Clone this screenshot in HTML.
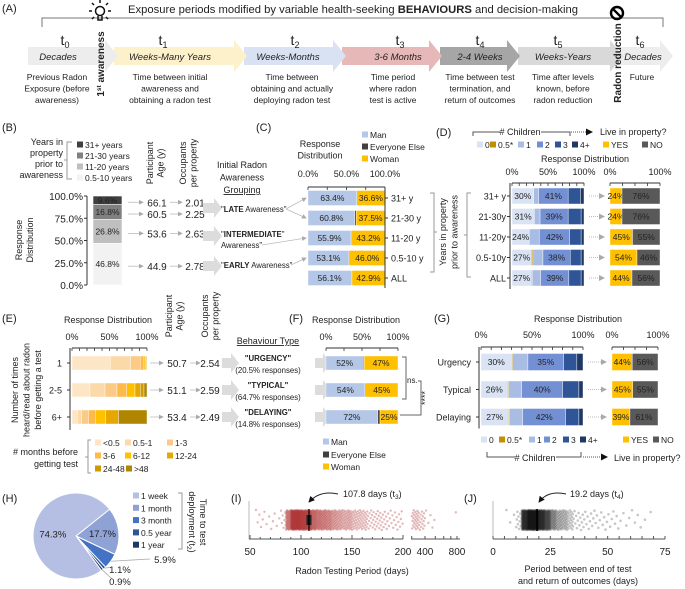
<!DOCTYPE html>
<html><head><meta charset="utf-8"><style>
html,body{margin:0;padding:0;background:#fff;}
svg{display:block;font-family:"Liberation Sans",sans-serif;}
text{fill:#222;}
</style></head><body>
<svg id="chart" width="685" height="589" viewBox="0 0 685 589" font-size="9">
<defs>
<marker id="ah" markerWidth="6" markerHeight="6" refX="5" refY="3" orient="auto"><path d="M0,0 L6,3 L0,6 z" fill="#aaa"/></marker>
<marker id="ahk" markerWidth="7" markerHeight="7" refX="6" refY="3.5" orient="auto"><path d="M0,0 L7,3.5 L0,7 z" fill="#111"/></marker>
</defs>
<!-- Panel A -->
<g>
<text x="2" y="12" font-size="11">(A)</text>
<text x="128" y="13" font-size="11" textLength="450" lengthAdjust="spacingAndGlyphs">Exposure periods modified by variable health-seeking <tspan font-weight="bold">BEHAVIOURS</tspan> and decision-making</text>
<path d="M42,27 V18 H663 V27" fill="none" stroke="#777" stroke-width="1"/>
<g stroke="#111" stroke-width="1.5" fill="none">
<circle cx="100" cy="11" r="4.5"/><path d="M98,16 v4 h4 v-4 M92,11 h-3 M108,11 h3 M100,3 v-3 M94,5 l-2,-2 M106,5 l2,-2 M94,17 l-2,2 M106,17 l2,2"/>
</g>
<g><circle cx="617" cy="13" r="6" fill="none" stroke="#000" stroke-width="2.4"/><line x1="612.8" y1="8.8" x2="621.2" y2="17.2" stroke="#000" stroke-width="2.4"/></g>
<g id="arrowsA"></g>
<g font-size="14">
<text x="65" y="45" text-anchor="middle">t<tspan font-size="9" dy="3">0</tspan></text>
<text x="163" y="45" text-anchor="middle">t<tspan font-size="9" dy="3">1</tspan></text>
<text x="295" y="45" text-anchor="middle">t<tspan font-size="9" dy="3">2</tspan></text>
<text x="400" y="45" text-anchor="middle">t<tspan font-size="9" dy="3">3</tspan></text>
<text x="480" y="45" text-anchor="middle">t<tspan font-size="9" dy="3">4</tspan></text>
<text x="558" y="45" text-anchor="middle">t<tspan font-size="9" dy="3">5</tspan></text>
<text x="640" y="45" text-anchor="middle">t<tspan font-size="9" dy="3">6</tspan></text>
</g>
<g font-style="italic" font-size="9.5" text-anchor="middle">
<text x="58" y="60">Decades</text>
<text x="170" y="60">Weeks-Many Years</text>
<text x="288" y="60">Weeks-Months</text>
<text x="398" y="60">3-6 Months</text>
<text x="480" y="60">2-4 Weeks</text>
<text x="563" y="60">Weeks-Years</text>
<text x="643" y="60">Decades</text>
</g>
<text transform="translate(104,64) rotate(-90)" text-anchor="middle" font-weight="bold" font-size="10">1<tspan font-size="6.5" dy="-3">st</tspan><tspan dy="3"> awareness</tspan></text>
<text transform="translate(621,63) rotate(-90)" text-anchor="middle" font-weight="bold" font-size="10">Radon reduction</text>
<g text-anchor="middle" font-size="8.5" fill="#222">
<text x="57" y="80"><tspan x="57">Previous Radon</tspan><tspan x="57" dy="11.5">Exposure (before</tspan><tspan x="57" dy="11.5">awareness)</tspan></text>
<text x="170" y="80"><tspan x="170">Time between initial</tspan><tspan x="170" dy="11.5">awareness and</tspan><tspan x="170" dy="11.5">obtaining a radon test</tspan></text>
<text x="292" y="80"><tspan x="292">Time between</tspan><tspan x="292" dy="11.5">obtaining and actually</tspan><tspan x="292" dy="11.5">deploying radon test</tspan></text>
<text x="393" y="80"><tspan x="393">Time period</tspan><tspan x="393" dy="11.5">where radon</tspan><tspan x="393" dy="11.5">test is active</tspan></text>
<text x="480" y="80"><tspan x="480">Time between test</tspan><tspan x="480" dy="11.5">termination, and</tspan><tspan x="480" dy="11.5">return of outcomes</tspan></text>
<text x="563" y="80"><tspan x="563">Time after levels</tspan><tspan x="563" dy="11.5">known, before</tspan><tspan x="563" dy="11.5">radon reduction</tspan></text>
<text x="642" y="80">Future</text>
</g>
</g>

<!-- Panel B -->
<g>
<text x="2" y="131" font-size="11">(B)</text>
<g text-anchor="end" font-size="9"><text x="63" y="145"><tspan x="63">Years in</tspan><tspan x="63" dy="11">property</tspan><tspan x="63" dy="11">prior to</tspan><tspan x="63" dy="11">awareness</tspan></text></g>
<path d="M72,142 H67 V179 H72 M67,160 H64" fill="none" stroke="#999"/>
<g id="bLegend"></g>
<text transform="translate(22,240) rotate(-90)" text-anchor="middle"><tspan x="0">Response</tspan><tspan x="0" dy="11">Distribution</tspan></text>
<text transform="translate(153,163) rotate(-90)" text-anchor="middle"><tspan x="0">Participant</tspan><tspan x="0" dy="10.5">Age (y)</tspan></text>
<text transform="translate(186,163) rotate(-90)" text-anchor="middle"><tspan x="0">Occupants</tspan><tspan x="0" dy="10.5">per property</tspan></text>
<g id="bChart"></g>
<text x="242" y="168" text-anchor="middle"><tspan x="242">Initial Radon</tspan><tspan x="242" dy="12.5">Awareness</tspan><tspan x="242" dy="12.5" text-decoration="underline">Grouping</tspan></text>
<text x="221" y="212" font-size="7.8">"<tspan font-weight="bold">LATE</tspan> Awareness"</text>
<text x="221" y="237" font-size="7.8"><tspan x="221">"<tspan font-weight="bold">INTERMEDIATE</tspan>"</tspan><tspan x="221" dy="11">Awareness"</tspan></text>
<text x="221" y="268" font-size="7.8">"<tspan font-weight="bold">EARLY</tspan> Awareness"</text>
<g stroke="#bbb" stroke-width="0.8" fill="none" marker-end="url(#ah)">
<line x1="286" y1="209" x2="306" y2="198"/><line x1="286" y1="209" x2="306" y2="218"/>
<line x1="262" y1="245" x2="306" y2="238"/><line x1="291" y1="265" x2="306" y2="258"/>
</g>
</g>

<!-- Panel C -->
<g>
<text x="256" y="131" font-size="11">(C)</text>
<text x="320" y="147" text-anchor="middle"><tspan x="320">Response</tspan><tspan x="320" dy="11.5">Distribution</tspan></text>
<g id="cLegend"></g>
<g id="cChart"></g>
<path d="M430,193 h4 v79 h-4 M434,232 h3" fill="none" stroke="#999"/>
<text transform="translate(446,232) rotate(-90)" text-anchor="middle"><tspan x="0">Years in property</tspan><tspan x="0" dy="11.5">prior to awareness</tspan></text>
</g>

<!-- Panel D -->
<g>
<text x="436" y="136" font-size="11">(D)</text>
<path d="M473,136 v-4 h27 M541,132 h29 v4" fill="none" stroke="#555"/>
<text x="520" y="135" text-anchor="middle"># Children</text>
<line x1="571" y1="132" x2="592" y2="132" stroke="#555" stroke-dasharray="1,1" marker-end="url(#ahk)"/>
<text x="600" y="135">Live in property?</text>
<text x="585" y="162" text-anchor="middle">Response Distribution</text>
<g id="dLegend"></g>
<g id="dChart"></g>
<path d="M471,193 h-4 v84 h4 M467,235 h-3" fill="none" stroke="#999"/>
</g>

<!-- Panel E -->
<g>
<text x="2" y="322" font-size="11">(E)</text>
<text x="108" y="323" text-anchor="middle">Response Distribution</text>
<text transform="translate(18,390) rotate(-90)" text-anchor="middle"><tspan x="0">Number of times</tspan><tspan x="0" dy="11.5">heard/read about radon</tspan><tspan x="0" dy="11.5">before getting a test</tspan></text>
<text transform="translate(172,316) rotate(-90)" text-anchor="middle"><tspan x="0">Participant</tspan><tspan x="0" dy="10.5">Age (y)</tspan></text>
<text transform="translate(208,316) rotate(-90)" text-anchor="middle"><tspan x="0">Occupants</tspan><tspan x="0" dy="10.5">per property</tspan></text>
<g id="eChart"></g>
<text x="78" y="455" text-anchor="end"><tspan x="78"># months before</tspan><tspan x="78" dy="12">getting test</tspan></text>
<path d="M91,440 h-3 v33 h3 M88,457 h-3" fill="none" stroke="#999"/>
<g id="eLegend"></g>
<text x="268" y="344" text-anchor="middle" text-decoration="underline">Behaviour Type</text>
<g text-anchor="middle" font-size="7.8">
<text x="268" y="361" font-weight="bold">"URGENCY"</text>
<text x="268" y="373">(20.5% responses)</text>
<text x="268" y="388" font-weight="bold">"TYPICAL"</text>
<text x="268" y="400">(64.7% responses)</text>
<text x="268" y="415" font-weight="bold">"DELAYING"</text>
<text x="268" y="427">(14.8% responses)</text>
</g>
</g>

<!-- Panel F -->
<g>
<text x="289" y="322" font-size="11">(F)</text>
<text x="356" y="323" text-anchor="middle">Response Distribution</text>
<g id="fChart"></g>
<g id="fLegend"></g>
<path d="M402,357 h4 v42 h-4" fill="none" stroke="#666"/>
<text x="407" y="383" font-size="8">ns.</text>
<path d="M418,381 h3 v34 h-21" fill="none" stroke="#666"/>
<text transform="translate(428,398) rotate(-90)" text-anchor="middle" font-size="9">****</text>
</g>

<!-- Panel G -->
<g>
<text x="434" y="322" font-size="11">(G)</text>
<text x="578" y="322" text-anchor="middle">Response Distribution</text>
<g id="gChart"></g>
<g id="gLegend"></g>
<path d="M487,452 v5 h28 M556,457 h25 v-5" fill="none" stroke="#555"/>
<text x="535" y="461" text-anchor="middle"># Children</text>
<line x1="583" y1="457" x2="607" y2="457" stroke="#555" stroke-dasharray="1,1" marker-end="url(#ahk)"/>
<text x="614" y="461">Live in property?</text>
</g>

<!-- Panel H -->
<g>
<text x="2" y="502" font-size="11">(H)</text>
<g id="hChart"></g>
<path d="M178,493 h4 v56 h-4" fill="none" stroke="#999"/>
<text transform="translate(200,522) rotate(90)" text-anchor="middle"><tspan x="0">Time to test</tspan><tspan x="0" dy="11">deployment (t<tspan font-size="6.5" dy="2">2</tspan><tspan dy="-2">)</tspan></tspan></text>
</g>

<!-- Panel I -->
<g>
<text x="231" y="502" font-size="11">(I)</text>
<g id="iChart"></g>
<text x="352" y="574" text-anchor="middle">Radon Testing Period (days)</text>
<text x="343" y="497">107.8 days (t<tspan font-size="6.5" dy="2">3</tspan><tspan dy="-2">)</tspan></text>
<path d="M338,494 Q320,490 309,502" fill="none" stroke="#222" stroke-width="0.9" marker-end="url(#ahk)"/>
</g>

<!-- Panel J -->
<g>
<text x="464" y="502" font-size="11">(J)</text>
<g id="jChart"></g>
<text x="578" y="572" text-anchor="middle"><tspan x="578">Period between end of test</tspan><tspan x="578" dy="12">and return of outcomes (days)</tspan></text>
<text x="570" y="497">19.2 days (t<tspan font-size="6.5" dy="2">4</tspan><tspan dy="-2">)</tspan></text>
<path d="M566,494 Q548,490 539,502" fill="none" stroke="#222" stroke-width="0.9" marker-end="url(#ahk)"/>
</g>
</svg>
<script>
// ---------- data ----------
const aArrowColors = ['#ededed','#fdf1cc','#d9e2f3','#e6b8b7','#a6a6a6','#d9d9d9','#ededed'];
const bCats = ['0.5-10 years','11-20 years','21-30 years','31+ years'];
const bVals = [46.8, 26.8, 16.8, 9.6];
const bAge = [44.9, 53.6, 60.5, 66.1];
const bOcc = [2.78, 2.63, 2.25, 2.01];
const bTicks = [0, 25, 50, 75, 100];
const cRows = ['31+ y','21-30 y','11-20 y','0.5-10 y','ALL'];
const cMan = [63.4, 60.8, 55.9, 53.1, 56.1];
const cElse = [0.0, 1.7, 0.9, 0.9, 1.0];
const cWoman = [36.6, 37.5, 43.2, 46.0, 42.9];
const cTicks = [0, 50, 100];
const dRows = ['31+ y','21-30y','11-20y','0.5-10y','ALL'];
const dC0 = [30, 31, 24, 27, 27];
const dC05 = [0, 0, 0, 2, 1];
const dC1 = [7, 8, 14, 14, 12];
const dC2 = [41, 39, 42, 38, 39];
const dC3 = [17, 18, 16, 15, 17];
const dC4 = [5, 4, 4, 4, 4];
const dYes = [24, 24, 45, 54, 44];
const dNo = [76, 76, 55, 46, 56];
const eRows = ['1','2-5','6+'];
const eCats = ['<0.5','0.5-1','1-3','3-6','6-12','12-24','24-48','>48'];
const eLt05 = [51, 24, 7];
const e05to1 = [27, 20, 6];
const e1to3 = [13, 16, 9];
const e3to6 = [5, 13, 9];
const e6to12 = [2, 11, 14];
const e12to24 = [1, 7, 17];
const e24to48 = [1, 5, 0];
const eGt48 = [0, 4, 38];
const eAge = [50.7, 51.1, 53.4];
const eOcc = [2.54, 2.59, 2.49];
const fMan = [52, 54, 72];
const fElse = [1, 1, 3];
const fWoman = [47, 45, 25];
const gRows = ['Urgency','Typical','Delaying'];
const g0 = [30, 26, 27];
const g05 = [1, 1, 1];
const g1 = [15, 13, 13];
const g2 = [35, 40, 42];
const g3 = [13, 16, 13];
const g4 = [6, 4, 4];
const gYes = [44, 45, 39];
const gNo = [56, 55, 61];
const hCats = ['1 week','1 month','3 month','0.5 year','1 year'];
const hVals = [74.3, 17.7, 5.9, 1.1, 0.9];
const iBinLo = [55,60,65,70,75,80,85,90,95,100,105,110,115,120,125,130,135,140,145,150,155,160,165,170,175,180,185,190,195,300,350,400,770];
const iBinHi = [60,65,70,75,80,85,90,95,100,105,110,115,120,125,130,135,140,145,150,155,160,165,170,175,180,185,190,195,200,350,400,500,790];
const iCounts = [3,3,2,3,2,6,60,120,120,110,100,70,60,55,50,40,35,30,30,22,20,18,10,10,10,8,6,6,6,25,15,5,1];
const iMedian = 107.8;
const iTicks = [50, 100, 150, 200];
const iTicks2 = [400, 800];
const jBinLo = [5,10,12.5,15,17.5,20,22.5,25,27.5,30,32.5,35,40,45,50,55,60,65];
const jBinHi = [10,12.5,15,17.5,20,22.5,25,27.5,30,32.5,35,40,45,50,55,60,65,70];
const jCounts = [3,10,150,200,200,150,110,60,40,35,20,14,10,8,7,4,4,2];
const jMedian = 19.2;
const jTicks = [0, 25, 50, 75];

// ---------- helpers ----------
const NS = 'http://www.w3.org/2000/svg';
function mk(tag, attrs, parent) {
  const e = document.createElementNS(NS, tag);
  for (const k in attrs) e.setAttribute(k, attrs[k]);
  parent.appendChild(e);
  return e;
}
function T(x, y, s, attrs, parent) {
  const e = mk('text', Object.assign({x: x, y: y}, attrs || {}), parent);
  e.textContent = s;
  return e;
}
function G(id) { return document.getElementById(id); }

// ---------- Panel A arrows ----------
const aStarts = [28, 114, 244, 342, 440, 518, 620];
const aEnds = [118, 247, 346, 442, 520, 623, 673];
(function () {
  const g = G('arrowsA');
  for (let i = aStarts.length - 1; i >= 0; i--) {
    const x0 = aStarts[i], x1 = aEnds[i], hx = x1 - 13;
    const el = mk('polygon', {points: `${x0},47 ${hx},47 ${hx},40 ${x1},56 ${hx},72 ${hx},65 ${x0},65`, fill: aArrowColors[i]}, g);
    
    
  }
})();

// ---------- axis helper ----------
function topAxis(g, sx, y, ticks, labels, labelY, minor, name) {
  const l = mk('line', {x1: sx(0), x2: sx(100), y1: y, y2: y, stroke: '#333', 'stroke-width': 1}, g);
  
  
  for (const t of minor) {
    const tk = mk('line', {x1: sx(t), x2: sx(t), y1: y, y2: y + 3, stroke: '#333', 'stroke-width': 0.8}, g);
    
    
  }
  for (let i = 0; i < ticks.length; i++) {
    const tl = T(sx(ticks[i]), labelY, labels[i], {'text-anchor': 'middle'}, g);
    
    
  }
}
function range(a, b, s) { const r = []; for (let v = a; v <= b + 1e-9; v += s) r.push(v); return r; }

function stacked(g, sx, ys, h, series, colors, labelSpec, name) {
  for (let r = 0; r < ys.length; r++) {
    let cum = 0;
    for (let s = 0; s < series.length; s++) {
      const v = series[s][r];
      const x = sx(cum), w = sx(cum + v) - sx(cum);
      if (v > 0) {
        const rc = mk('rect', {x: x, y: ys[r] - h / 2, width: w, height: h, fill: colors[s], stroke: '#fff', 'stroke-width': 0.4}, g);
        
        
      }
      if (labelSpec[s]) {
        const tl = T(x + w / 2, ys[r] + 3, labelSpec[s].fmt(v), {'text-anchor': 'middle', fill: labelSpec[s].color, 'font-size': 8.5}, g);
        
        
      }
      cum += v;
    }
  }
}
function legendItem(g, x, y, color, label, name) {
  const r = mk('rect', {x: x, y: y - 3.5, width: 6, height: 6, fill: color}, g);
  
  
  const t = T(x + 8, y + 3, label, {'font-size': 8.5}, g);
  
  
}
function smallArrow(g, x1, x2, y, name) {
  const l = mk('line', {x1: x1, x2: x2, y1: y, y2: y, stroke: '#bbb', 'stroke-width': 0.8, 'marker-end': 'url(#ah)'}, g);
  
  
}
function bigArrow(g, x0, x1, y, name) {
  const hx = x1 - 8;
  const p = mk('polygon', {points: `${x0},${y - 5} ${hx},${y - 5} ${hx},${y - 10} ${x1},${y} ${hx},${y + 10} ${hx},${y + 5} ${x0},${y + 5}`, fill: '#dcdcdc'}, g);
  
  
}

// ---------- Panel B ----------
(function () {
  const g = G('bChart');
  const yB = v => 285 - v * 0.89;
  const bColors = ['#f2f2f2', '#bfbfbf', '#808080', '#404040'];
  const ax = mk('line', {x1: 87, x2: 87, y1: yB(100), y2: yB(0), stroke: '#333'}, g);
  
  
  for (const t of bTicks) {
    const tk = mk('line', {x1: 84, x2: 87, y1: yB(t), y2: yB(t), stroke: '#333'}, g);
    
    
    const tl = T(83, yB(t) + 4, t.toFixed(1) + '%', {'text-anchor': 'end', 'font-size': 10}, g);
    
    
  }
  let cum = 0;
  for (let i = 0; i < bVals.length; i++) {
    const y0 = yB(cum + bVals[i]), y1 = yB(cum);
    const rc = mk('rect', {x: 93, y: y0, width: 29, height: y1 - y0, fill: bColors[i], stroke: '#fff', 'stroke-width': 0.6}, g);
    
    
    const cy = (y0 + y1) / 2 + 3;
    const tl = T(107.5, cy, bVals[i].toFixed(1) + '%', {'text-anchor': 'middle', 'font-size': 8.5, fill: i >= 2 ? '#ddd' : '#333'}, g);
    
    
    const ry = (y0 + y1) / 2 + 2;
    smallArrow(g, 128, 143, ry, 'b-age-connector');
    const ta = T(157, ry + 4, bAge[i].toFixed(1), {'text-anchor': 'middle', 'font-size': 10}, g);
    
    
    smallArrow(g, 170, 182, ry, 'b-occupants-connector');
    const to = T(195, ry + 4, bOcc[i].toFixed(2), {'text-anchor': 'middle', 'font-size': 10}, g);
    
    
    cum += bVals[i];
  }
  bigArrow(g, 203, 222, 208, 'late-grouping-arrow');
  bigArrow(g, 203, 222, 236, 'intermediate-grouping-arrow');
  bigArrow(g, 203, 222, 266, 'early-grouping-arrow');
  const lg = G('bLegend');
  const order = [3, 2, 1, 0];
  for (let k = 0; k < 4; k++) {
    const i = order[k];
    legendItem(lg, 77, 145 + k * 11, bColors[i], bCats[i], 'b-legend-' + k);
  }
})();

// ---------- Panel C ----------
(function () {
  const g = G('cChart');
  const sx = v => 308 + v * 0.77;
  const ys = [198, 218, 238, 258, 278];
  topAxis(g, sx, 187, cTicks, ['0.0%', '50.0%', '100.0%'], 177, [0, 25, 50, 75, 100], 'c');
  stacked(g, sx, ys, 15, [cMan, cElse, cWoman], ['#b4c7e7', '#404040', '#ffc000'],
    [{fmt: v => v.toFixed(1) + '%', color: '#333'}, null, {fmt: v => v.toFixed(1) + '%', color: '#333'}], 'c');
  const vl = mk('line', {x1: 385, x2: 385, y1: 187, y2: 288, stroke: '#333'}, g);
  
  
  for (let i = 0; i < cRows.length; i++) {
    const tk = mk('line', {x1: 385, x2: 388, y1: ys[i], y2: ys[i], stroke: '#333'}, g);
    
    
    const t = T(391, ys[i] + 3.5, cRows[i], {}, g);
    
    
  }
  const lg = G('cLegend');
  legendItem(lg, 362, 135, '#b4c7e7', 'Man', 'c-legend-man');
  legendItem(lg, 362, 147, '#404040', 'Everyone Else', 'c-legend-else');
  legendItem(lg, 362, 159, '#ffc000', 'Woman', 'c-legend-woman');
})();

// ---------- children charts (D, G) ----------
const childColors = ['#dae3f3', '#bf9000', '#a9bce3', '#7390d4', '#2f5597', '#1f3864'];
const childNames = ['0', '0.5*', '1', '2', '3', '4+'];
function childrenChart(g, rows, ys, h, x0, x1, sx2a, sx2b, series, yes, no, axisY, labelY, name, rowLabelX, labelIdx) {
  const sx = v => x0 + v * (x1 - x0) / 100;
  const sx2 = v => sx2a + v * (sx2b - sx2a) / 100;
  topAxis(g, sx, axisY, [0, 50, 100], ['0%', '50%', '100%'], labelY, range(0, 100, 10), name);
  topAxis(g, sx2, axisY, [0, 100], ['0%', '100%'], labelY, [0, 25, 50, 75, 100], name + '-live');
  const spec = [];
  for (let s = 0; s < 6; s++) spec.push(labelIdx.indexOf(s) >= 0 ? {fmt: v => v + '%', color: '#222'} : null);
  stacked(g, sx, ys, h, series, childColors, spec, name);
  stacked(g, sx2, ys, h, [yes, no], ['#ffc000', '#595959'], [{fmt: v => v + '%', color: '#222'}, {fmt: v => v + '%', color: '#eee'}], name + '-live');
  const vl = mk('line', {x1: x0 - 2, x2: x0 - 2, y1: axisY, y2: ys[ys.length - 1] + h / 2 + 3, stroke: '#333'}, g);
  
  
  for (let i = 0; i < rows.length; i++) {
    const tk = mk('line', {x1: x0 - 5, x2: x0 - 2, y1: ys[i], y2: ys[i], stroke: '#333'}, g);
    
    
    const t = T(rowLabelX, ys[i] + 3.5, rows[i], {'text-anchor': 'end'}, g);
    
    
    const a = mk('line', {x1: x1 + 5, x2: sx2a - 6, y1: ys[i], y2: ys[i], stroke: '#bbb', 'stroke-dasharray': '1,1', 'marker-end': 'url(#ah)'}, g);
    
    
  }
}
(function () {
  const g = G('dChart');
  const ys = [196, 216.5, 237, 257.5, 278];
  childrenChart(g, dRows, ys, 16, 512, 584, 610, 660, [dC0, dC05, dC1, dC2, dC3, dC4], dYes, dNo, 183, 175, 'd', 506, [0, 3]);
  const lg = G('dLegend');
  const xs = [477, 490, 518, 537, 555, 572];
  for (let i = 0; i < 6; i++) legendItem(lg, xs[i], 145, childColors[i], childNames[i], 'd-legend-' + i);
  legendItem(lg, 603, 145, '#ffc000', 'YES', 'd-legend-yes');
  legendItem(lg, 642, 145, '#595959', 'NO', 'd-legend-no');
})();
(function () {
  const g = G('gChart');
  const ys = [362, 389.5, 417];
  childrenChart(g, gRows, ys, 17, 481, 583, 612, 658, [g0, g05, g1, g2, g3, g4], gYes, gNo, 347, 338, 'g', 471, [0, 3]);
  const lg = G('gLegend');
  const xs = [481, 499, 529, 544, 563, 580];
  for (let i = 0; i < 6; i++) legendItem(lg, xs[i], 440, childColors[i], childNames[i], 'g-legend-' + i);
  legendItem(lg, 623, 440, '#ffc000', 'YES', 'g-legend-yes');
  legendItem(lg, 653, 440, '#595959', 'NO', 'g-legend-no');
})();

// ---------- Panel E ----------
(function () {
  const g = G('eChart');
  const sx = v => 72 + v * 0.75;
  const ys = [363, 390, 417];
  const eColors = ['#fde6c6', '#fcd9a8', '#fbca86', '#fdb94a', '#ffc000', '#e6a800', '#cf9a00', '#b08500'];
  topAxis(g, sx, 348, [0, 50, 100], ['0%', '50%', '100%'], 340, range(0, 100, 10), 'e');
  stacked(g, sx, ys, 14, [eLt05, e05to1, e1to3, e3to6, e6to12, e12to24, e24to48, eGt48], eColors, [null, null, null, null, null, null, null, null], 'e');
  const vl = mk('line', {x1: 70, x2: 70, y1: 348, y2: 430, stroke: '#333'}, g);
  
  
  for (let i = 0; i < 3; i++) {
    const tk = mk('line', {x1: 67, x2: 70, y1: ys[i], y2: ys[i], stroke: '#333'}, g);
    
    
    const t = T(62, ys[i] + 3.5, eRows[i], {'text-anchor': 'end'}, g);
    
    
    smallArrow(g, 150, 163, ys[i], 'e-age-connector');
    const ta = T(177, ys[i] + 4, eAge[i].toFixed(1), {'text-anchor': 'middle', 'font-size': 10}, g);
    
    
    smallArrow(g, 190, 200, ys[i], 'e-occupants-connector');
    const to = T(210, ys[i] + 4, eOcc[i].toFixed(2), {'text-anchor': 'middle', 'font-size': 10}, g);
    
    
    bigArrow(g, 222, 239, ys[i], 'e-behaviour-arrow');
    bigArrow(g, 315, 331, ys[i], 'f-behaviour-arrow');
  }
  const lg = G('eLegend');
  const lx = [95, 125, 167, 95, 125, 167, 95, 126];
  const ly = [443, 443, 443, 456, 456, 456, 469, 469];
  for (let i = 0; i < eCats.length; i++) legendItem(lg, lx[i], ly[i], eColors[i], eCats[i], 'e-legend-' + i);
})();

// ---------- Panel F ----------
(function () {
  const g = G('fChart');
  const sx = v => 326 + v * 0.72;
  const ys = [363, 390, 417];
  topAxis(g, sx, 348, [0, 50, 100], ['0%', '50%', '100%'], 340, [0, 25, 50, 75, 100], 'f');
  stacked(g, sx, ys, 14, [fMan, fElse, fWoman], ['#b4c7e7', '#404040', '#ffc000'],
    [{fmt: v => v + '%', color: '#333'}, null, {fmt: v => v + '%', color: '#333'}], 'f');
  const lg = G('fLegend');
  legendItem(lg, 323, 442, '#b4c7e7', 'Man', 'f-legend-man');
  legendItem(lg, 323, 455, '#404040', 'Everyone Else', 'f-legend-else');
  legendItem(lg, 323, 467, '#ffc000', 'Woman', 'f-legend-woman');
})();

// ---------- Panel H ----------
(function () {
  const g = G('hChart');
  const cx = 76, cy = 536, r = 43;
  const hColors = ['#b4bfe3', '#8ea2d6', '#4472c4', '#2f5597', '#1f3864'];
  const total = hVals.reduce((a, b) => a + b, 0);
  const order = [1, 2, 3, 4, 0];
  const pt = a => [cx + r * Math.sin(a * Math.PI / 180), cy - r * Math.cos(a * Math.PI / 180)];
  let a0 = 51.5;
  const mids = {};
  for (const i of order) {
    const a1 = a0 + hVals[i] / total * 360;
    const p0 = pt(a0), p1 = pt(a1);
    const large = (a1 - a0) > 180 ? 1 : 0;
    const p = mk('path', {d: `M${cx},${cy} L${p0[0]},${p0[1]} A${r},${r} 0 ${large} 1 ${p1[0]},${p1[1]} Z`, fill: hColors[i], stroke: '#fff', 'stroke-width': 1}, g);
    
    
    mids[i] = (a0 + a1) / 2;
    a0 = a1;
  }
  const lbl = (i, x, y) => {
    const t = T(x, y, hVals[i].toFixed(1) + '%', {'text-anchor': 'middle', 'font-size': 9.5}, g);
    
    
  };
  const lp = (a, k) => [cx + r * k * Math.sin(a * Math.PI / 180), cy - r * k * Math.cos(a * Math.PI / 180)];
  let m = lp(mids[0], 0.45); lbl(0, m[0] - 4, m[1] + 4);
  m = lp(mids[1], 0.62); lbl(1, m[0], m[1] + 4);
  const outs = [[2, 150, 559, 165, 563], [3, 112, 567, 120, 573], [4, 112, 579, 120, 585]];
  for (const o of outs) {
    const e = lp(mids[o[0]], 1);
    const l = mk('polyline', {points: `${e[0]},${e[1]} ${o[1]},${o[2]}`, fill: 'none', stroke: '#aaa', 'stroke-width': 0.8}, g);
    
    
    lbl(o[0], o[3], o[4]);
  }
  for (let i = 0; i < hCats.length; i++) legendItem(g, 133, 496 + i * 12.3, hColors[i], hCats[i], 'h-legend-' + i);
})();

// ---------- strip plots ----------
function strip(g, sx, lo, hi, counts, color, op, rr, name) {
  let k = 0;
  for (let b = 0; b < counts.length; b++) {
    for (let j = 0; j < counts[b]; j++) {
      const d = lo[b] + (j + 0.5) / counts[b] * (hi[b] - lo[b]);
      const fy = ((k * 0.6180339) % 1);
      k++;
      const c = mk('circle', {cx: sx(d), cy: 510 + fy * 20, r: rr, fill: color, 'fill-opacity': op}, g);
      
      
    }
  }
}
(function () {
  const g = G('iChart');
  const sx = d => d <= 200 ? 250 + (d - 50) * (153 / 150) : 425 + Math.log2(d / 400) * 32;
  const yl = mk('line', {x1: 249, x2: 249, y1: 501, y2: 539, stroke: '#bbb'}, g);
  
  
  const x1 = mk('line', {x1: 249, x2: 403, y1: 539, y2: 539, stroke: '#555'}, g);
  
  
  const x2 = mk('line', {x1: 411, x2: 460, y1: 539, y2: 539, stroke: '#555'}, g);
  
  
  for (const v of range(50, 200, 10)) {
    const tk = mk('line', {x1: sx(v), x2: sx(v), y1: 539, y2: v % 50 === 0 ? 535 : 537, stroke: '#555'}, g);
    
    
  }
  for (const v of [300, 400, 500, 600, 700, 800]) {
    const tk = mk('line', {x1: sx(v), x2: sx(v), y1: 539, y2: 536, stroke: '#555'}, g);
    
    
  }
  for (const v of iTicks.concat(iTicks2)) {
    const t = T(sx(v), 555, String(v), {'text-anchor': 'middle', 'font-size': 10}, g);
    
    
  }
  strip(g, sx, iBinLo, iBinHi, iCounts, '#a31515', 0.3, 1.2, 'i');
  const box = mk('rect', {x: sx(iMedian) - 2.5, y: 515, width: 5, height: 10, fill: '#222'}, g);
  
  
  const ml = mk('line', {x1: sx(iMedian), x2: sx(iMedian), y1: 509, y2: 531, stroke: '#000', 'stroke-width': 1.2}, g);
  
  
})();
(function () {
  const g = G('jChart');
  const sx = d => 493 + d * (172 / 75);
  const yl = mk('line', {x1: 493, x2: 493, y1: 501, y2: 539, stroke: '#bbb'}, g);
  
  
  const xl = mk('line', {x1: 493, x2: 665, y1: 539, y2: 539, stroke: '#555'}, g);
  
  
  for (const v of range(0, 75, 5)) {
    const tk = mk('line', {x1: sx(v), x2: sx(v), y1: 539, y2: 536, stroke: '#555'}, g);
    
    
  }
  for (const v of jTicks) {
    const t = T(sx(v), 555, String(v), {'text-anchor': 'middle', 'font-size': 10}, g);
    
    
  }
  strip(g, sx, jBinLo, jBinHi, jCounts, '#000', 0.22, 1.3, 'j');
  const ml = mk('line', {x1: sx(jMedian), x2: sx(jMedian), y1: 509, y2: 531, stroke: '#000', 'stroke-width': 1.6}, g);
  
  
})();
</script>
</body></html>
